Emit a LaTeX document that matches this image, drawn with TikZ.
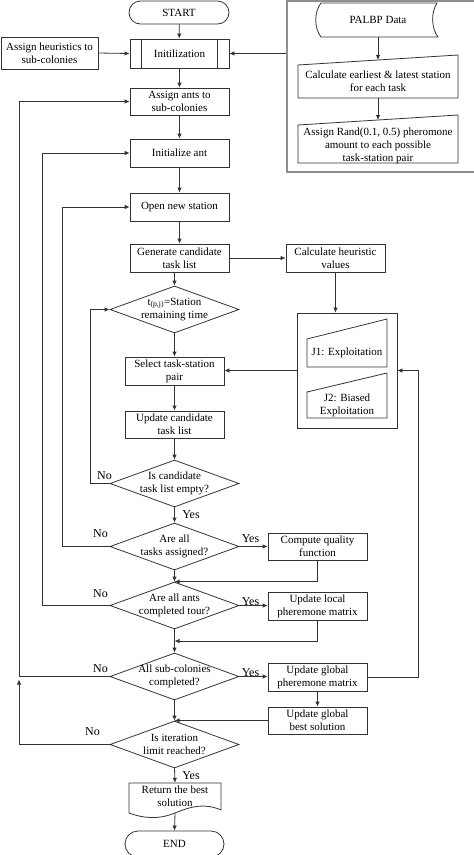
\documentclass[tikz,border=0pt]{standalone}
\usepackage{fontspec}
\setmainfont{Liberation Serif}
\usetikzlibrary{arrows.meta,shapes.geometric,calc}
\definecolor{lc}{HTML}{333333}
\definecolor{fc}{HTML}{8E8E8E}
\newcommand\myfs{\fontsize{11}{13.3}\selectfont}
\newcommand\mylfs{\fontsize{12}{14}\selectfont}
\begin{document}
\begin{tikzpicture}[x=1pt,y=-1pt,
  line/.style={draw=lc, line width=0.8pt},
  arr/.style={line, -{Latex[length=5pt,width=4.5pt]}},
  box/.style={draw=lc, line width=0.8pt, rectangle, minimum width=99pt, minimum height=28pt, inner sep=1pt, align=center, font=\myfs},
  term/.style={draw=lc, line width=0.8pt, rectangle, rounded corners=11.5pt, minimum width=100pt, minimum height=23pt, inner sep=1pt, font=\myfs},
  txt/.style={inner sep=0pt, align=center, font=\myfs},
  dia/.style={draw=lc, line width=0.8pt, diamond, inner sep=0pt, minimum width=129pt, minimum height=47pt},
  lbl/.style={inner sep=0pt, font=\mylfs}
]
\useasboundingbox (0,0) rectangle (474,855);
\clip (0,0) rectangle (474,855);

% right frame
\node[draw=fc, line width=1.1pt, minimum width=189pt, minimum height=171pt, inner sep=0pt] (frame) at (381.5,86.5) {};
% PALBP stored data
\node[txt, minimum width=116pt, minimum height=34pt] (palbp) at (378,20) {PALBP Data};
\draw[line] (321,3) -- (437,3) .. controls (431,12) and (431,28) .. (438,37) -- (321,37) .. controls (314,28) and (314,12) .. (321,3) -- cycle;
% manual input shapes
\draw[line] (298,65) -- (458,55) -- (458,98) -- (298,98) -- cycle;
\node[txt] (calc) at (378,81) {Calculate earliest \& latest station\\for each task};
\coordinate (calctop) at (378,60);
\coordinate (calcbot) at (378,98);
\draw[line] (298,125) -- (458,115) -- (458,163) -- (298,163) -- cycle;
\node[txt] (rand) at (378,146) {Assign Rand(0.1, 0.5) pheromone\\amount to each possible\\task-station pair};
\coordinate (randtop) at (378,120);

% main column
\node[term] (start) at (179,12.5) {START};
\node[box, minimum height=29pt] (init) at (179.5,53.5) {Initilization};
\draw[line] ([xshift=12pt]init.north west) -- ([xshift=12pt]init.south west);
\draw[line] ([xshift=-12pt]init.north east) -- ([xshift=-12pt]init.south east);
\node[box, minimum width=97pt, minimum height=32pt] (heur) at (49.5,53) {Assign heuristics to\\sub-colonies};
\node[box, minimum height=27pt] (assignants) at (179.5,101.5) {Assign ants to\\sub-colonies};
\node[box] (initant) at (179.5,153) {Initialize ant};
\node[box] (opennew) at (179.5,207) {Open new station};
\node[box] (gen) at (179.5,258) {Generate candidate\\task list};
\node[box] (calcheur) at (335.5,258) {Calculate heuristic\\values};
\node[dia] (d1) at (174.5,309.5) {};
\node[txt] at (d1) {t\textsubscript{(p,j)}=Station\\remaining time};
\node[draw=lc, line width=0.8pt, minimum width=100pt, minimum height=115pt, inner sep=0pt] (jbox) at (347,370.5) {};
\draw[line] (307,339) -- (387,319) -- (387,367) -- (307,367) -- cycle;
\node[txt] (j1) at (347,353) {J1: Exploitation};
\draw[line] (307,392) -- (387,373) -- (387,418) -- (307,418) -- cycle;
\node[txt] (j2) at (347,405) {J2: Biased\\Exploitation};
\node[box] (select) at (174.5,371) {Select task-station\\pair};
\node[box, minimum height=27pt] (update) at (174.5,424.5) {Update candidate\\task list};
\node[dia] (d2) at (174.5,483.5) {};
\node[txt] at (d2) {Is candidate\\task list empty?};
\node[dia] (d3) at (174.5,546.5) {};
\node[txt] at (d3) {Are all\\tasks assigned?};
\node[box, minimum height=27pt] (compute) at (317.5,546.5) {Compute quality\\function};
\node[dia] (d4) at (174.5,605.5) {};
\node[txt] at (d4) {Are all ants\\completed tour?};
\node[box] (local) at (317.5,606) {Update local\\pheremone matrix};
\coordinate (jn1) at (174.5,641);
\node[dia] (d5) at (174.5,676.5) {};
\node[txt] at (d5) {All sub-colonies\\completed?};
\node[box] (global) at (317.5,677) {Update global\\pheremone matrix};
\node[box, minimum height=27pt] (best) at (317.5,720.5) {Update global\\best solution};
\node[dia] (d6) at (174.5,744.5) {};
\node[txt] at (d6) {Is iteration\\limit reached?};
\node[txt, minimum width=92pt, minimum height=26pt] (ret) at (175,796) {Return the best\\solution};
\draw[line] (129,783) -- (221,783) -- (221,810) .. controls (205,803) and (192,806) .. (175,813) .. controls (158,820) and (142,818) .. (129,813) -- cycle;
\coordinate (retbot) at (175,813);
\node[term, minimum width=99pt, minimum height=26pt, rounded corners=13pt] (end) at (174.5,844) {END};

% loop columns
\coordinate (xa) at (19,0);
\coordinate (xb) at (42,0);
\coordinate (xc) at (62,0);
\coordinate (xd) at (90,0);
\coordinate (xr) at (418,0);

% connectors
\draw[arr] (start) -- (init);
\draw[arr] (heur.east) -- (init.west);
\draw[arr] (frame.west |- init.east) -- (init.east);
\draw[arr] (palbp.south) -- (calctop);
\draw[arr] (calcbot) -- (randtop);
\draw[arr] (init) -- (assignants);
\draw[arr] (assignants) -- (initant);
\draw[arr] (initant) -- (opennew);
\draw[arr] (opennew) -- (gen);
\draw[arr] (gen.south -| d1.north) -- (d1.north);
\draw[arr] (gen.east) -- (calcheur.west);
\draw[arr] (calcheur.south) -- (calcheur.south |- jbox.north);
\draw[arr] (d1.south) -- (select.north);
\draw[arr] (jbox.west) -- (jbox.west -| select.east);
\draw[arr] (select) -- (update);
\draw[arr] (update) -- (d2.north);
\draw[arr] (d2.south) -- (d3.north);
\draw[arr] (d2.west) -- (d2.west -| xd) |- (d1.west);
\draw[arr] (d3.east) -- (compute.west);
\draw[arr] (d3.west) -- (d3.west -| xc) |- (opennew.west);
\draw[arr] (d3.south) -- (d4.north);
\draw[arr] (compute.south) |- (d4.north);
\draw[arr] (d4.east) -- (d4.east -| local.west);
\draw[arr] (d4.west) -- (d4.west -| xb) |- (initant.west);
\draw[arr] (d4.south) -- (d5.north);
\draw[arr] (local.south) |- (jn1);
\draw[arr] (d5.east) -- (d5.east -| global.west);
\draw[line] (d5.west) -- (d5.west -| xa);
\draw[arr] (global.south) -- (best.north);
\draw[arr] (global.east) -- (global.east -| xr) |- (jbox.east);
\draw[arr] (d5.south) -- (d6.north);
\draw[arr] (best.west) -- (best.west -| d6.north);
\draw[arr] (d6.west) -- (d6.west -| xa) -- ($(d5.west -| xa)+(0,3)$);
\draw[arr] (d5.west -| xa) |- (assignants.west);
\draw[arr] (d6.south) -- (ret.north);
\draw[arr] (retbot) -- (end.north);

% labels
\node[lbl] (no2) at (104.5,476) {No};
\node[lbl] (yes2) at (191,515) {Yes};
\node[lbl] (no3) at (100.5,534) {No};
\node[lbl] (yes3) at (250.5,539) {Yes};
\node[lbl] (no4) at (100.5,594) {No};
\node[lbl] (yes4) at (250.5,602) {Yes};
\node[lbl] (no5) at (100.5,669) {No};
\node[lbl] (yes5) at (250.5,673) {Yes};
\node[lbl] (no6) at (92.5,732) {No};
\node[lbl] (yes6) at (191,776) {Yes};
\end{tikzpicture}
\end{document}
